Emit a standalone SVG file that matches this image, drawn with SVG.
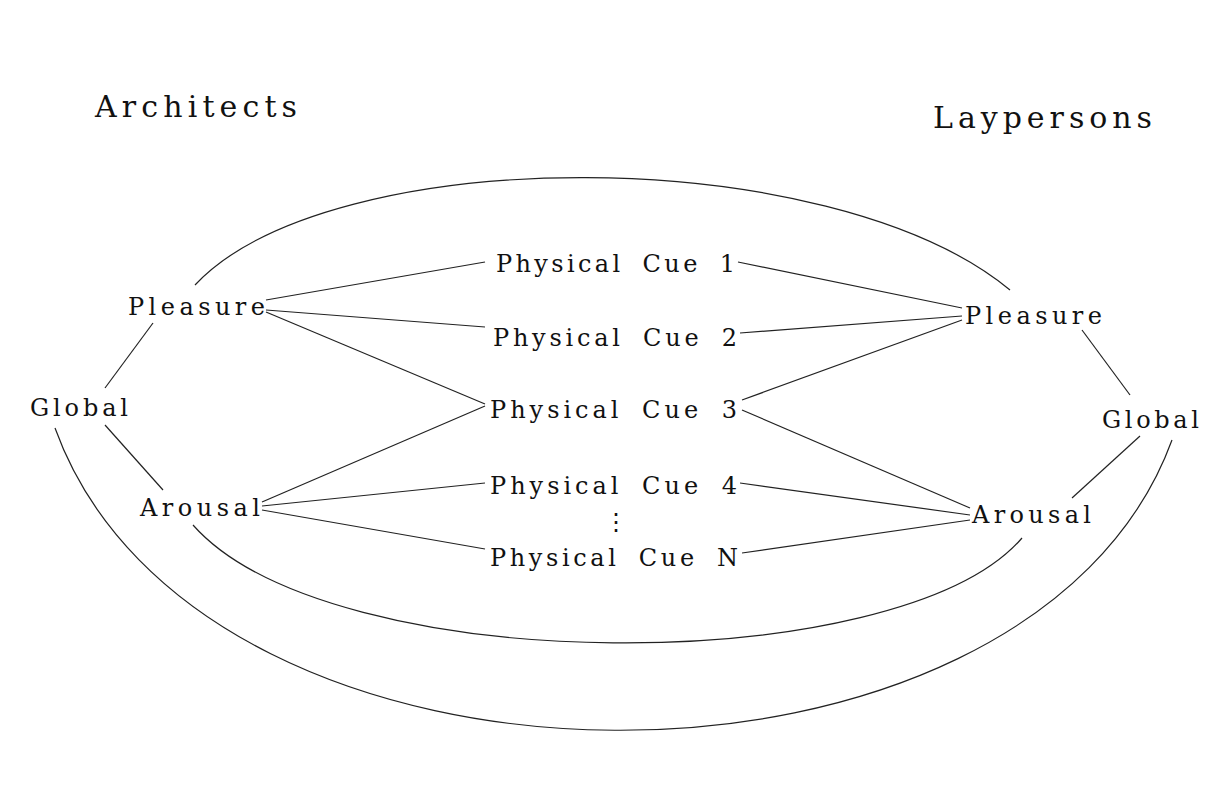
<svg xmlns="http://www.w3.org/2000/svg" width="1226" height="806" viewBox="0 0 1226 806">
<style>
text{font-family:"DejaVu Serif","Liberation Serif",serif;fill:#111;}
.n{font-size:24px;}
.c{font-size:24px;word-spacing:8px;}
.h{font-size:30px;}
#connectors path,#connectors line{stroke:#222;stroke-width:1.2;fill:none;}
</style>
<rect width="1226" height="806" fill="#fff"/>
<g id="connectors">
<path d="M195,285 C330,141 830,141 1010,290"/>
<path d="M193,525 C330,680 900,680 1022,538"/>
<path d="M55,428 C200,829 1030,829 1172,440"/>
<line x1="266" y1="300" x2="485" y2="262"/>
<line x1="266" y1="310" x2="485" y2="327"/>
<line x1="266" y1="312" x2="485" y2="404"/>
<line x1="262" y1="502" x2="485" y2="406"/>
<line x1="262" y1="506" x2="485" y2="483"/>
<line x1="262" y1="510" x2="485" y2="549"/>
<line x1="738" y1="262" x2="962" y2="308"/>
<line x1="740" y1="333" x2="962" y2="316"/>
<line x1="742" y1="400" x2="962" y2="320"/>
<line x1="742" y1="410" x2="970" y2="508"/>
<line x1="740" y1="483" x2="970" y2="515"/>
<line x1="742" y1="553" x2="970" y2="520"/>
<line x1="153" y1="323" x2="105" y2="388"/>
<line x1="105" y1="425" x2="163" y2="490"/>
<line x1="1082" y1="330" x2="1130" y2="395"/>
<line x1="1140" y1="436" x2="1072" y2="498"/>
</g>
<g id="titles">
<text class="h" x="95" y="117" textLength="202" lengthAdjust="spacing">Architects</text>
<text class="h" x="933" y="128" textLength="219" lengthAdjust="spacing">Laypersons</text>
</g>
<g id="arch-pleasure"><text class="n" x="128" y="315" textLength="137" lengthAdjust="spacing">Pleasure</text></g>
<g id="arch-global"><text class="n" x="30" y="416" textLength="98" lengthAdjust="spacing">Global</text></g>
<g id="arch-arousal"><text class="n" x="140" y="516" textLength="120" lengthAdjust="spacing">Arousal</text></g>
<g id="cue1"><text class="c" x="496" y="272" textLength="239" lengthAdjust="spacing">Physical Cue 1</text></g>
<g id="cue2"><text class="c" x="493" y="346" textLength="244" lengthAdjust="spacing">Physical Cue 2</text></g>
<g id="cue3"><text class="c" x="490" y="418" textLength="247" lengthAdjust="spacing">Physical Cue 3</text></g>
<g id="cue4"><text class="c" x="490" y="494" textLength="247" lengthAdjust="spacing">Physical Cue 4</text></g>
<g id="dots"><text class="n" x="604" y="530">⋮</text></g>
<g id="cueN"><text class="c" x="490" y="566" textLength="248" lengthAdjust="spacing">Physical Cue N</text></g>
<g id="lay-pleasure"><text class="n" x="965" y="324" textLength="137" lengthAdjust="spacing">Pleasure</text></g>
<g id="lay-global"><text class="n" x="1102" y="428" textLength="97" lengthAdjust="spacing">Global</text></g>
<g id="lay-arousal"><text class="n" x="972" y="523" textLength="119" lengthAdjust="spacing">Arousal</text></g>
</svg>
